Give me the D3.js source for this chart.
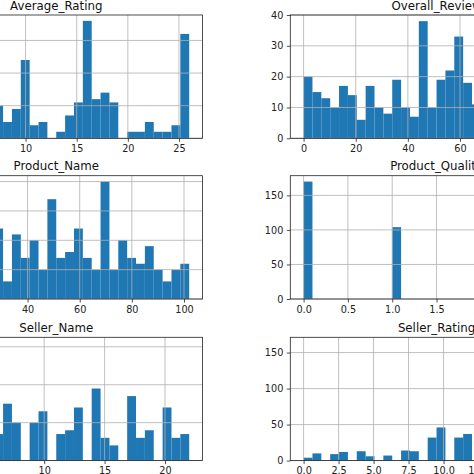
<!DOCTYPE html>
<html lang="en">
<head>
<meta charset="UTF-8">
<title>Column Histograms</title>
<script src="https://d3js.org/d3.v7.min.js"></script>
<style>
    body {
        margin: 0;
        background: #fff;
    }
    svg {
        display: block;
        font-family: "DejaVu Sans", sans-serif;
    }
</style>
</head>
<body>
<svg width="474" height="474"></svg>
<script>
    // one histogram per column, 30 bins each
    const titles = ["Average_Rating", "Overall_Review", "Product_Name", "Product_Quality", "Seller_Name", "Seller_Rating"];
    const ranges = [[0, 26], [0, 102], [0, 102], [0, 3], [0, 22], [0, 19]];
    const yTops = [37.8, 40, 21, 178.5, 32.5, 171.2];

    const averageRating = [8, 12, 6, 15, 10, 7, 13, 0, 10, 5, 9, 24, 4, 5, 0, 2, 7, 11, 36, 12, 14, 11, 0, 2, 2, 5, 2, 2, 4, 32];
    const overallReview = [20, 15, 13, 10, 17, 14, 6, 17, 10, 8, 19, 10, 7, 38, 10, 19, 22, 33, 18, 11, 14, 9, 16, 12, 8, 11, 6, 9, 5, 7];
    const productName = [9, 14, 8, 10, 12, 6, 9, 13, 12, 3, 11, 7, 10, 5, 17, 7, 8, 12, 7, 5, 20, 5, 10, 7, 6, 9, 5, 3, 5, 6];
    const productQuality = [170, 0, 0, 0, 0, 0, 0, 0, 0, 0, 104, 0, 0, 0, 0, 0, 0, 0, 0, 0, 3, 0, 0, 0, 0, 0, 0, 0, 0, 1];
    const sellerName = [31, 12, 9, 0, 14, 10, 8, 0, 7, 15, 10, 0, 10, 13, 0, 7, 8, 14, 0, 19, 6, 4, 0, 17, 6, 8, 0, 14, 6, 7];
    const sellerRating = [4, 10, 0, 9, 12, 0, 13, 6, 0, 7, 0, 14, 13, 0, 32, 46, 0, 32, 37, 0, 45, 0, 70, 95, 0, 163, 120, 0, 60, 30];

    const counts = [averageRating, overallReview, productName, productQuality, sellerName, sellerRating];

    const xTicks = [
        [0, 5, 10, 15, 20, 25],
        [0, 20, 40, 60, 80, 100],
        [0, 20, 40, 60, 80, 100],
        [0, 0.5, 1, 1.5, 2, 2.5, 3],
        [0, 5, 10, 15, 20],
        [0, 2.5, 5, 7.5, 10, 12.5, 15, 17.5]
    ];
    const yTicks = [
        [0, 10, 20, 30],
        [0, 10, 20, 30, 40],
        [0, 5, 10, 15, 20],
        [0, 50, 100, 150],
        [0, 10, 20, 30],
        [0, 50, 100, 150]
    ];
    const xFormats = ["d", "d", "d", ".1f", "d", ".1f"].map(f => d3.format(f));

    // the picture is a crop of a bigger figure, so the left column starts off-screen
    const colLeft = [-90, 290.3];
    const rowTop = [15, 175.7, 337.3];
    const axW = 292.5;
    const axH = 123.3;
    const W = 474, H = 474;

    const svg = d3.select("svg");

    counts.forEach((data, i) => {
        const left = colLeft[i % 2];
        const top = rowTop[Math.floor(i / 2)];
        const [lo, hi] = ranges[i];
        const pad = (hi - lo) * 0.05;
        const bw = (hi - lo) / data.length;

        const x = d3.scaleLinear().domain([lo - pad, hi + pad]).range([left, left + axW]);
        const y = d3.scaleLinear().domain([0, yTops[i]]).range([top + axH, top]);

        const g = svg.append("g");

        g.selectAll("rect")
            .data(data.map((c, k) => ({c, k})).filter(d => d.c > 0))
            .join("rect")
            .attr("x", d => x(lo + d.k * bw))
            .attr("width", d => x(lo + (d.k + 1) * bw) - x(lo + d.k * bw))
            .attr("y", d => y(d.c))
            .attr("height", d => y(0) - y(d.c))
            .attr("fill", "#1f77b4");

        // grid sits above the bars
        g.selectAll(".vgrid")
            .data(xTicks[i])
            .join("line")
            .attr("x1", d => x(d)).attr("x2", d => x(d))
            .attr("y1", top).attr("y2", top + axH)
            .attr("stroke", "#b0b0b0")
            .attr("stroke-width", 0.8);

        g.selectAll(".hgrid")
            .data(yTicks[i])
            .join("line")
            .attr("x1", left).attr("x2", left + axW)
            .attr("y1", d => y(d)).attr("y2", d => y(d))
            .attr("stroke", "#b0b0b0")
            .attr("stroke-width", 0.8);

        const xAxis = d3.axisBottom(x).tickValues(xTicks[i]).tickFormat(xFormats[i]).tickSize(3.5).tickPadding(3.5);
        const yAxis = d3.axisLeft(y).tickValues(yTicks[i]).tickSize(3.5).tickPadding(3.5);

        g.append("g")
            .attr("transform", `translate(0,${top + axH})`)
            .call(xAxis)
            .call(a => a.select(".domain").remove());

        g.append("g")
            .attr("transform", `translate(${left},0)`)
            .call(yAxis)
            .call(a => a.select(".domain").remove());

        g.selectAll(".tick text")
            .attr("font-family", "DejaVu Sans, sans-serif")
            .attr("font-size", 9.7)
            .attr("fill", "#222");
        g.selectAll(".tick line")
            .attr("stroke", "#222")
            .attr("stroke-width", 0.8);

        g.append("rect")
            .attr("x", left).attr("y", top)
            .attr("width", axW).attr("height", axH)
            .attr("fill", "none")
            .attr("stroke", "#222")
            .attr("stroke-width", 0.8);

        g.append("text")
            .attr("x", left + axW / 2)
            .attr("y", top - 5.5)
            .attr("text-anchor", "middle")
            .attr("font-size", 11.8)
            .attr("fill", "#111")
            .text(titles[i]);
    });

    // drop tick labels that fall completely outside the cropped view
    svg.selectAll("text").each(function () {
        const b = this.getBoundingClientRect();
        if (b.right <= 0 || b.left >= W || b.bottom <= 0 || b.top >= H) d3.select(this).remove();
    });
</script>
</body>
</html>
